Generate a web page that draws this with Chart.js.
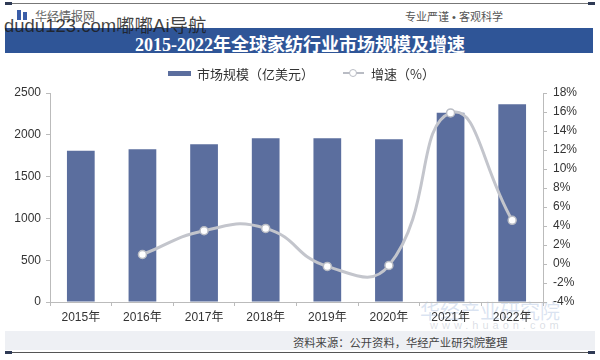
<!DOCTYPE html>
<html><head><meta charset="utf-8">
<script src="https://cdn.jsdelivr.net/npm/chart.js@4/dist/chart.umd.min.js"></script>
<style>
html,body{margin:0;padding:0;background:#fff;}
#wrap{position:relative;width:600px;height:360px;overflow:hidden;background:#fff;font-family:"Liberation Sans","Noto Sans CJK SC",sans-serif;}
.abs{position:absolute;white-space:nowrap;}
canvas{position:absolute;left:0;top:0;}
</style></head>
<body>
<div id="wrap">
  <div class="abs" style="left:5px;top:3px;width:590px;height:1px;background:#777;"></div>
  <div class="abs" style="left:5px;top:2px;width:7px;height:3px;background:#2e3a55;"></div>
  <div class="abs" style="left:588px;top:2px;width:7px;height:3px;background:#2e3a55;"></div>
  <div class="abs" style="left:17px;top:10px;width:4px;height:10px;background:#3a5da8;"></div>
  <div class="abs" style="left:23px;top:12px;width:4px;height:8px;background:#3a5da8;"></div>
  <div class="abs" style="left:35px;top:7px;font-size:12px;color:#666;">华经情报网</div>
  <div class="abs" style="left:405px;top:8px;font-size:11px;color:#555;">专业严谨 • 客观科学</div>
  <div class="abs" style="left:5px;top:28px;width:588px;height:25px;background:#2f5597;"></div>
  <div class="abs" style="left:4px;top:11px;font-size:18.5px;color:rgba(30,30,30,0.85);font-family:'Liberation Sans','Noto Sans CJK SC',sans-serif;">dudu123.com嘟嘟Ai导航</div>
  <div class="abs" id="title" style="left:0;width:600px;text-align:center;top:30px;font-size:18px;font-weight:bold;color:#fff;font-family:'Liberation Serif','Noto Sans CJK SC',serif;">2015-2022年全球家纺行业市场规模及增速</div>
  <div class="abs" style="left:420px;top:296px;font-size:20px;color:rgba(150,175,215,0.35);font-family:'Noto Sans CJK SC';">华经产业研究院</div>
  <div class="abs" style="left:430px;top:319px;font-size:11px;letter-spacing:4px;color:rgba(150,160,180,0.35);">www.huaon.com</div>
  <div class="abs" style="left:5px;top:331px;width:590px;height:19px;background:#eef0f4;"></div>
  <div class="abs" style="left:293px;top:334px;font-size:11.3px;color:#444;">资料来源：公开资料，华经产业研究院整理</div>
  <div class="abs" style="left:5px;top:352px;width:590px;height:1px;background:#555;"></div>
  <div class="abs" style="left:5px;top:351px;width:7px;height:3px;background:#2e3a55;"></div>
  <div class="abs" style="left:588px;top:351px;width:7px;height:3px;background:#2e3a55;"></div>
  <canvas id="c" width="600" height="360"></canvas>
  <div class="abs" style="left:168px;top:71px;width:23px;height:5px;background:#5b6e9e;"></div>
  <div class="abs" style="left:197px;top:64px;font-size:13px;color:#333;font-family:'Noto Sans CJK SC',sans-serif;">市场规模（亿美元）</div>
  <div class="abs" style="left:343px;top:72px;width:21px;height:2px;background:#b9bcc4;"></div>
  <div class="abs" style="left:349px;top:69px;width:6px;height:6px;border:1px solid #b9bcc4;border-radius:50%;background:#fff;"></div>
  <div class="abs" style="left:371px;top:64px;font-size:13px;color:#333;font-family:'Noto Sans CJK SC',sans-serif;">增速（%）</div>
</div>
<script>
const categories = ["2015年","2016年","2017年","2018年","2019年","2020年","2021年","2022年"];
const marketSize = [1810, 1826, 1886, 1958, 1958, 1946, 2264, 2365];
const growthRate = [null, 1.0, 3.5, 3.75, -0.25, -0.15, 15.9, 4.6];
const leftTicks = [0, 500, 1000, 1500, 2000, 2500];
const rightTicks = [-4, -2, 0, 2, 4, 6, 8, 10, 12, 14, 16, 18];

const tickFont = {family: "'Liberation Sans','Noto Sans CJK SC',sans-serif", size: 12};
new Chart(document.getElementById('c'), {
  type: 'bar',
  data: {
    labels: categories,
    datasets: [
      {type: 'line', label: '增速（%）', data: growthRate, yAxisID: 'y1', order: 1,
       borderColor: '#c3c5cc', borderWidth: 3, tension: 0.5,
       pointRadius: 4, pointBackgroundColor: '#fff', pointBorderColor: '#b9bcc4', pointBorderWidth: 1.5},
      {label: '市场规模（亿美元）', data: marketSize, yAxisID: 'y', order: 2,
       backgroundColor: '#5b6e9e', categoryPercentage: 1, barPercentage: 0.45}
    ]
  },
  options: {
    responsive: false, animation: false, devicePixelRatio: 1,
    layout: {padding: {top: 93, left: 0, right: 0, bottom: 0}},
    plugins: {legend: {display: false}, tooltip: {enabled: false}},
    scales: {
      x: {
        afterFit: s => { s.height = 58; },
        grid: {display: true, offset: true, drawOnChartArea: false, drawTicks: true, tickLength: 4, color: '#bbb'},
        border: {color: '#bbb'},
        ticks: {font: tickFont, color: '#333', padding: 4, maxRotation: 0}
      },
      y: {
        position: 'left', min: 0, max: 2500,
        afterFit: s => { s.width = 50; },
        afterBuildTicks: s => { s.ticks = leftTicks.map(v => ({value: v})); },
        grid: {display: true, drawOnChartArea: false, drawTicks: true, tickLength: 4, color: '#bbb'},
        border: {color: '#bbb'},
        ticks: {font: tickFont, color: '#333', padding: 5, callback: v => String(v)}
      },
      y1: {
        position: 'right', min: -4, max: 18,
        afterFit: s => { s.width = 57; },
        afterBuildTicks: s => { s.ticks = rightTicks.map(v => ({value: v})); },
        grid: {display: true, drawOnChartArea: false, drawTicks: true, tickLength: 4, color: '#bbb'},
        border: {color: '#bbb'},
        ticks: {font: tickFont, color: '#333', padding: 6, callback: v => v + '%'}
      }
    }
  }
});
</script>
</body></html>
